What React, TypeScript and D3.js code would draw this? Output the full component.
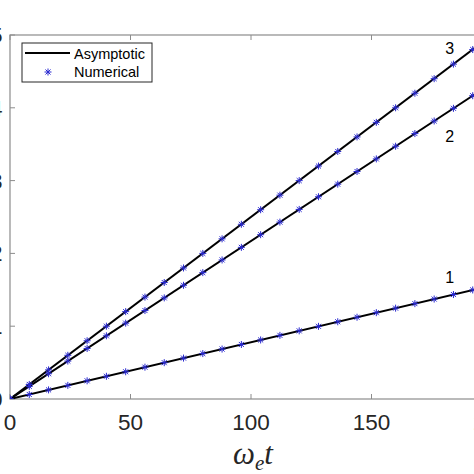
import React from "react";
import * as d3 from "d3";

const tNum = [0, 8, 16, 24, 32, 40, 48, 56, 64, 72, 80, 88, 96, 104, 112, 120, 128, 136, 144, 152, 160, 168, 176, 184, 192];
const series1 = [0, 0.062, 0.125, 0.187, 0.25, 0.312, 0.374, 0.437, 0.499, 0.562, 0.624, 0.686, 0.749, 0.811, 0.874, 0.936, 0.998, 1.061, 1.123, 1.186, 1.248, 1.31, 1.373, 1.435, 1.498];
const series2 = [0, 0.174, 0.347, 0.521, 0.694, 0.868, 1.042, 1.215, 1.389, 1.562, 1.736, 1.91, 2.083, 2.257, 2.43, 2.604, 2.778, 2.951, 3.125, 3.298, 3.472, 3.646, 3.819, 3.993, 4.166];
const series3 = [0, 0.2, 0.4, 0.6, 0.8, 1.0, 1.2, 1.4, 1.6, 1.8, 2.0, 2.2, 2.4, 2.6, 2.8, 3.0, 3.2, 3.4, 3.6, 3.8, 4.0, 4.2, 4.4, 4.6, 4.8];
const tLine = [0, 200];
const asym1 = [0, 1.56];
const asym2 = [0, 4.34];
const asym3 = [0, 5.0];
const curveLabels = ["1", "2", "3"];
const labelAt = [{ t: 182.5, v: 1.60 }, { t: 182.5, v: 3.53 }, { t: 182.5, v: 4.74 }];
const xTicks = [0, 50, 100, 150, 200];
const yTicks = [0, 1, 2, 3, 4, 5];

const W = 474, H = 474;
const x = d3.scaleLinear().domain([0, 200]).range([10, 492]);
const y = d3.scaleLinear().domain([0, 5]).range([399, 35]);

function Star({ cx, cy, r, color }: { cx: number; cy: number; r: number; color: string }) {
  const d = r * 0.72;
  return (
    <g stroke={color} strokeWidth={1}>
      <line x1={cx - r} y1={cy} x2={cx + r} y2={cy} />
      <line x1={cx} y1={cy - r} x2={cx} y2={cy + r} />
      <line x1={cx - d} y1={cy - d} x2={cx + d} y2={cy + d} />
      <line x1={cx - d} y1={cy + d} x2={cx + d} y2={cy - d} />
    </g>
  );
}

export default function App() {
  const line = d3.line<number>().x((_, i) => x(tLine[i])).y((v) => y(v));
  const asym = [asym1, asym2, asym3];
  const nums = [series1, series2, series3];
  const blue = "#2a2ad0";
  const axisColor = "#8c8c8c";
  const sans = "Liberation Sans, Arial, sans-serif";
  return (
    <svg width={W} height={H} style={{ position: "absolute", left: 0, top: 0, background: "#fff" }}>
      <defs>
        <clipPath id="plot">
          <rect x={x(0)} y={y(5)} width={x(200) - x(0)} height={y(0) - y(5)} />
        </clipPath>
      </defs>
      <rect x={x(0)} y={y(5)} width={x(200) - x(0)} height={y(0) - y(5)} fill="#fff" stroke={axisColor} strokeWidth={1.2} />
      {xTicks.map((t) => (
        <g key={"xt" + t}>
          <line x1={x(t)} x2={x(t)} y1={y(0)} y2={y(0) - 5} stroke={axisColor} />
          <line x1={x(t)} x2={x(t)} y1={y(5)} y2={y(5) + 5} stroke={axisColor} />
          <text x={x(t)} y={y(0) + 31} textAnchor="middle" fontFamily={sans} fontSize={22.5} fill="#262626">{t}</text>
        </g>
      ))}
      {yTicks.map((v) => (
        <g key={"yt" + v}>
          <line x1={x(0)} x2={x(0) + 5} y1={y(v)} y2={y(v)} stroke={axisColor} />
          <text x={2.5} y={y(v) + 8} textAnchor="end" fontFamily={sans} fontSize={22.5} fill="#262626">{v}</text>
        </g>
      ))}
      <g clipPath="url(#plot)">
        {asym.map((s, i) => (
          <path key={"a" + i} d={line(s) || ""} fill="none" stroke="#000" strokeWidth={2} />
        ))}
        {nums.map((s, i) => (
          <g key={"n" + i}>
            {s.map((v, j) => (
              <Star key={j} cx={x(tNum[j])} cy={y(v)} r={3.5} color={blue} />
            ))}
          </g>
        ))}
      </g>
      {curveLabels.map((l, i) => (
        <text key={"cl" + i} x={x(labelAt[i].t)} y={y(labelAt[i].v)} textAnchor="middle" fontFamily={sans} fontSize={16} fill="#000">{l}</text>
      ))}
      <rect x={22} y={43} width={130} height={39} fill="#fff" stroke="#262626" strokeWidth={1} />
      <line x1={25} x2={70} y1={53} y2={53} stroke="#000" strokeWidth={2} />
      <text x={74} y={58.5} fontFamily={sans} fontSize={14.5} fill="#000">Asymptotic</text>
      <Star cx={48} cy={72} r={3.5} color={blue} />
      <text x={74} y={77} fontFamily={sans} fontSize={14.5} fill="#000">Numerical</text>
      <text x={233} y={464} fontFamily="Liberation Serif, serif" fontStyle="italic" fontSize={31} fill="#262626">
        ω<tspan fontSize={21} dy={6}>e</tspan><tspan dy={-6}>t</tspan>
      </text>
    </svg>
  );
}
